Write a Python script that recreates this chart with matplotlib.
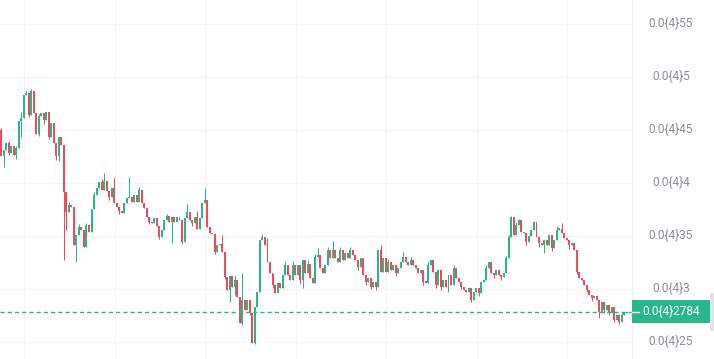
import matplotlib
matplotlib.use("Agg")
import matplotlib.pyplot as plt
import matplotlib.transforms as mtrans
from matplotlib.patches import Rectangle
from matplotlib.lines import Line2D

# ---- data (prices in units of 1e-7) ----
first_open = 450
closes = [
    425, 431, 438, 428, 435, 426, 433, 458, 461, 483,
    485, 464, 487, 466, 446, 463, 466, 459, 467, 443,
    457, 438, 425, 443, 436, 391, 373, 379, 377, 341,
    351, 358, 356, 340, 360, 354, 375, 389, 395, 401,
    393, 402, 392, 387, 395, 381, 377, 374, 372, 381,
    386, 387, 382, 389, 382, 393, 381, 376, 368, 363,
    362, 367, 359, 349, 356, 365, 369, 363, 368, 363,
    368, 365, 344, 367, 373, 365, 362, 368, 357, 367,
    381, 384, 358, 353, 352, 335, 341, 342, 335, 311,
    299, 312, 302, 308, 292, 268, 290, 280, 290, 277,
    249, 283, 297, 346, 349, 341, 325, 315, 304, 296,
    306, 301, 313, 323, 313, 308, 323, 313, 323, 308,
    327, 315, 324, 310, 306, 330, 332, 320, 315, 323,
    337, 329, 337, 329, 325, 337, 327, 334, 329, 337,
    332, 327, 321, 329, 313, 307, 310, 302, 307, 302,
    337, 316, 329, 316, 325, 318, 323, 315, 320, 325,
    330, 325, 323, 327, 323, 320, 315, 318, 307, 306,
    323, 327, 316, 304, 318, 302, 308, 302, 313, 304,
    320, 310, 307, 302, 299, 297, 301, 290, 297, 301,
    296, 307, 308, 320, 325, 315, 313, 318, 313, 311,
    315, 329, 349, 368, 351, 360, 365, 354, 353, 344,
    350, 356, 363, 349, 343, 341, 346, 341, 351, 339,
    346, 356, 357, 353, 348, 346, 341, 343, 337, 316,
    310, 308, 304, 299, 294, 291, 293, 290, 278, 288,
    280, 285, 277, 283, 271, 275, 269, 275, 277, 278.4,
]
wick_high = {0: 452, 3: 440, 6: 435, 8: 467, 10: 487, 12: 489, 15: 465,
             27: 382, 31: 361, 34: 362, 37: 391, 40: 404, 41: 409, 45: 405,
             51: 406, 55: 396, 66: 371, 74: 380, 78: 374, 81: 395, 88: 351,
             93: 313, 96: 315, 104: 352, 106: 348, 113: 326, 116: 326,
             122: 327, 125: 333, 126: 339, 130: 340, 132: 345, 135: 340,
             139: 340, 151: 341, 154: 328, 160: 335, 163: 330, 170: 326,
             180: 323, 193: 323, 201: 331, 202: 351, 203: 369, 205: 363,
             206: 366, 212: 364, 221: 359, 223: 362, 247: 277}
wick_low = {1: 415, 3: 426, 6: 423, 8: 443, 11: 462, 15: 444, 17: 456,
            19: 441, 22: 422, 23: 421, 25: 327, 26: 356, 30: 325, 43: 384,
            47: 371, 59: 361, 63: 347, 68: 343, 72: 342, 76: 359, 85: 333,
            89: 309, 91: 288, 93: 294, 96: 266, 99: 275, 101: 248, 108: 301,
            110: 299, 119: 305, 120: 301, 142: 318, 145: 304, 147: 300,
            149: 299, 157: 312, 168: 304, 173: 301, 175: 299, 178: 297,
            183: 300, 187: 288, 190: 293, 196: 310, 199: 308, 209: 341,
            214: 340, 216: 334, 219: 336, 226: 338, 229: 314, 233: 297,
            235: 289, 238: 273, 240: 277, 242: 275, 244: 269, 246: 267}

tick_values = [250, 300, 350, 400, 450, 500, 550]
tick_labels = ["0.0{4}25", "0.0{4}3", "0.0{4}35", "0.0{4}4",
               "0.0{4}45", "0.0{4}5", "0.0{4}55"]
last_price = 278.4
last_label = "0.0{4}2784"

UP = "#2bb58c"
DOWN = "#ea4e5b"
GRID = "#f2f4f7"
TXT = "#8a8e97"

W, H = 714, 359
fig = plt.figure(figsize=(W / 100, H / 100), dpi=100)
fig.patch.set_facecolor("white")
PLOT_W = 632
ax = fig.add_axes([0, 0, PLOT_W / W, 1])
ax.set_facecolor("white")
for s in ax.spines.values():
    s.set_visible(False)
ax.set_xticks([])
ax.set_yticks([])

spacing = 2.514  # px per candle
ax.set_xlim(-1 / spacing, (PLOT_W - 1) / spacing)
ax.set_ylim(572.6 - 0.9434 * H, 572.6)

# grid
for v in tick_values:
    ax.axhline(v, color=GRID, lw=0.8, zorder=0)
for k in range(7):
    ax.axvline(9.15 + 36 * k, color=GRID, lw=0.8, zorder=0)

n = len(closes)
opens = [first_open] + closes[:-1]
xs = list(range(n))
highs = [wick_high.get(i, max(opens[i], closes[i])) for i in xs]
lows = [wick_low.get(i, min(opens[i], closes[i])) for i in xs]
cols = [UP if closes[i] >= opens[i] else DOWN for i in xs]
bottoms = [min(opens[i], closes[i]) for i in xs]
heights = [max(abs(closes[i] - opens[i]), 1.2) for i in xs]

ax.vlines(xs, lows, highs, colors=cols, lw=0.75, zorder=2)
ax.bar(xs, heights, bottom=bottoms, width=0.78, color=cols, linewidth=0, zorder=3)

# last price dashed line
ax.axhline(last_price, color=UP, lw=1.0, dashes=(3.0, 2.2), zorder=4)

# separator between plot and price axis
fig.add_artist(Line2D([PLOT_W / W, PLOT_W / W], [0, 1], color="#eef0f3", lw=0.8))

# price axis labels
tr = mtrans.blended_transform_factory(fig.transFigure, ax.transData)
for v, lab in zip(tick_values, tick_labels):
    fig.text(671 / W, v, lab, transform=tr, ha="center", va="center",
             fontsize=8.6, color=TXT, family="Roboto")

# last price label box
box_h = 23 * 0.9434
fig.add_artist(Rectangle((PLOT_W / W, last_price - box_h / 2), 78 / W, box_h,
                         transform=tr, facecolor=UP, edgecolor="none", zorder=5))
fig.add_artist(Line2D([PLOT_W / W, 639 / W], [last_price, last_price],
                      transform=tr, color="white", lw=1.0, zorder=6))
fig.text(671 / W, last_price, last_label, transform=tr, ha="center", va="center",
         fontsize=8.6, color="white", family="Roboto", zorder=7)
# small tab at the far right
fig.add_artist(Rectangle((710 / W, last_price - 38 * 0.9434 / 2), 4 / W, 38 * 0.9434,
                         transform=tr, facecolor="#e3e5ea", edgecolor="none", zorder=5))

fig.savefig("out.png", dpi=100)
